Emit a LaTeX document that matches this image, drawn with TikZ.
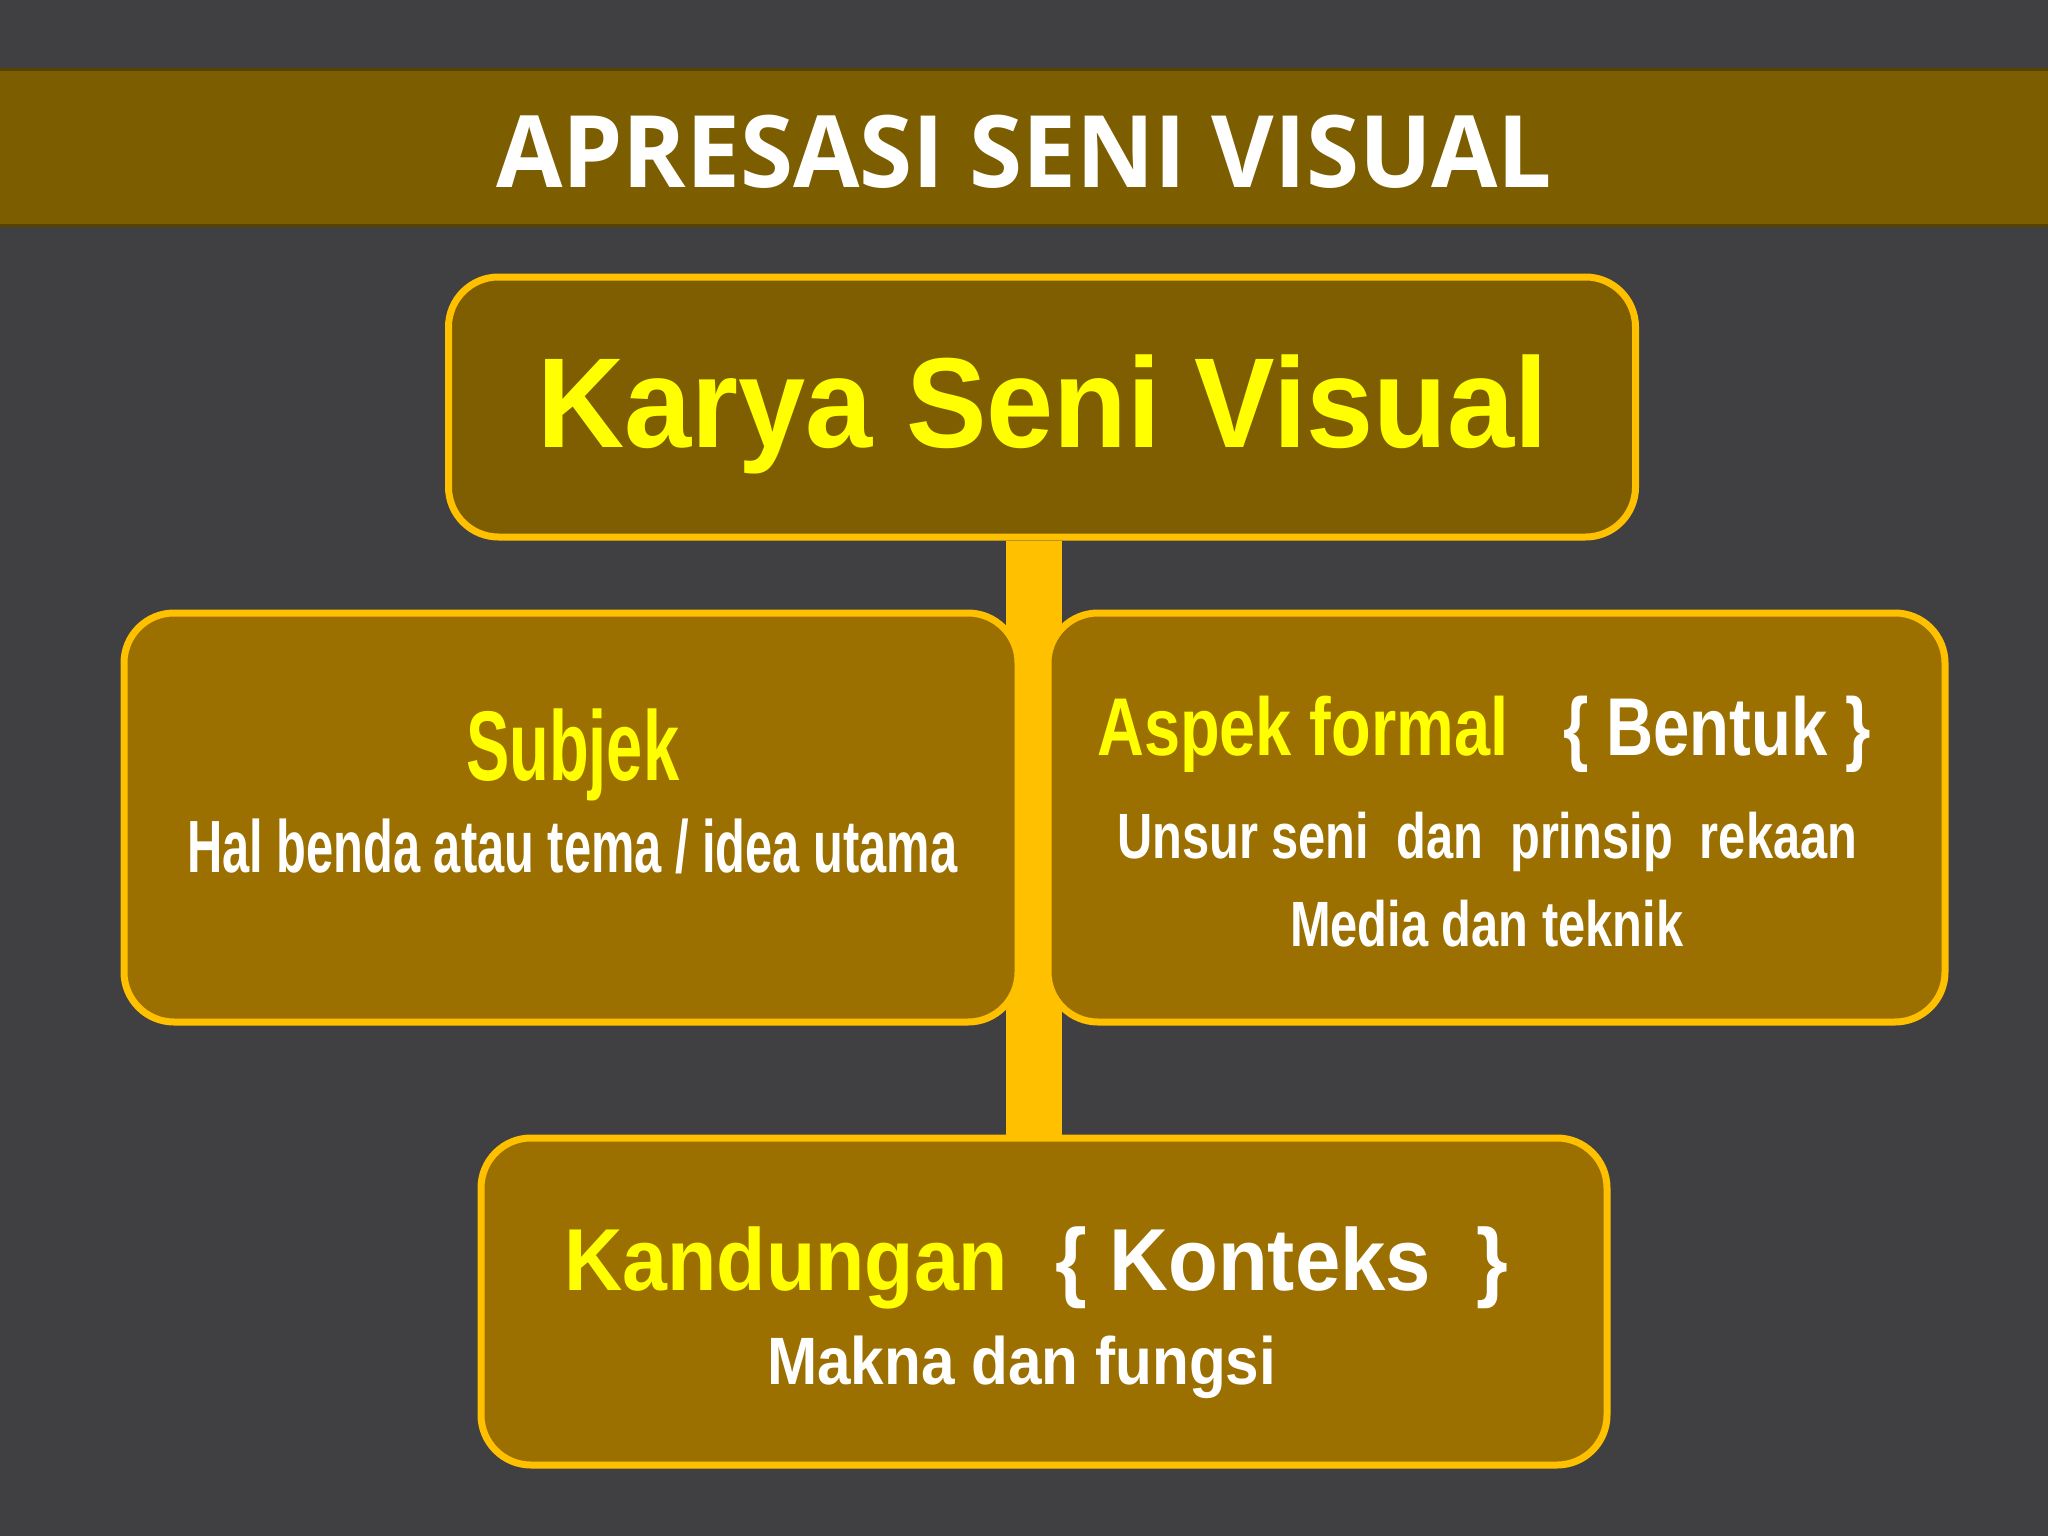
\documentclass[tikz,border=0pt]{standalone}
\usepackage{fontspec}
\usepackage{graphicx}
\setmainfont{Liberation Sans}
\newfontfamily\titlefont{Open Sans}
\definecolor{bgc}{RGB}{64,64,66}
\definecolor{barc}{RGB}{124,94,0}
\definecolor{topbox}{RGB}{126,94,0}
\definecolor{boxc}{RGB}{156,112,0}
\definecolor{edgec}{RGB}{255,192,0}
\definecolor{yel}{RGB}{255,255,0}
\newcommand{\fs}[1]{\fontsize{#1pt}{#1pt}\selectfont}
\newcommand{\fitw}[2]{\resizebox{#1pt}{\height}{#2}}
\pgfdeclarelayer{backlayer}
\pgfdeclarelayer{midlayer}
\pgfsetlayers{backlayer,midlayer,main}
\tikzset{
  box/.style={draw=edgec, line width=7pt, rounded corners=50pt, inner sep=0pt},
  conn/.style={draw=edgec, line width=56pt},
  txt/.style={anchor=base west, inner sep=0pt, font=\bfseries},
}
\begin{document}
\begin{tikzpicture}[x=1pt,y=-1pt]
\useasboundingbox (0,0) rectangle (2048,1536);
\begin{pgfonlayer}{backlayer}
\fill[bgc] (0,0) rectangle (2048,1536);
\fill[barc] (0,68) rectangle (2048,227);
\draw[black!30!barc, line width=3pt] (0,69.5) -- (2048,69.5) (0,225.5) -- (2048,225.5);
\end{pgfonlayer}
\node[anchor=base, inner sep=0pt, text=white] (title) at (1024,187)
  {\fitw{1056}{\titlefont\bfseries\fs{100}APRESASI SENI VISUAL}};

% boxes
\node[box, fill=topbox, minimum width=1187pt, minimum height=260pt] (karya) at (1042,407) {};
\node[box, fill=boxc, minimum width=1126pt, minimum height=327pt] (kand) at (1044,1301.5) {};
\node[box, fill=boxc, minimum width=894pt, minimum height=409pt] (subj) at (571,817.5) {};
\node[box, fill=boxc, minimum width=897pt, minimum height=409pt] (aspek) at (1496.5,817.5) {};
\begin{pgfonlayer}{midlayer}
\draw[conn] ([xshift=-8pt]karya.south) -- ([xshift=-8pt]karya.south |- kand.north);
\end{pgfonlayer}

% texts
\node[txt, text=yel] (tkarya) at (537,447) {\fitw{1011}{\fs{128}Karya Seni Visual}};
\node[txt, text=yel] (tsubj) at (466,780) {\fitw{213}{\fs{99}Subjek}};
\node[txt, text=white] (thal) at (187,872) {\fitw{770}{\fs{74}Hal benda atau tema / idea utama}};
\node[txt, text=yel] (taspek) at (1097,755) {\fitw{411}{\fs{82}Aspek formal}};
\node[txt, text=white] (tbentuk) at (1563,755) {\fitw{308}{\fs{82}\{ Bentuk \}}};
\node[txt, text=white] (tunsur) at (1117,858) {\fitw{740}{\fs{64}Unsur seni\ \ dan\ \ prinsip\ \ rekaan}};
\node[txt, text=white] (tmedia) at (1290,946) {\fitw{393}{\fs{64}Media dan teknik}};
\node[txt, text=yel] (tkand) at (564,1290) {\fitw{444}{\fs{88}Kandungan}};
\node[txt, text=white] (tkont) at (1055,1290) {\fitw{453}{\fs{88}\{ Konteks\ \ \}}};
\node[txt, text=white] (tmakna) at (767,1384) {\fitw{509}{\fs{67}Makna dan fungsi}};
\end{tikzpicture}
\end{document}
